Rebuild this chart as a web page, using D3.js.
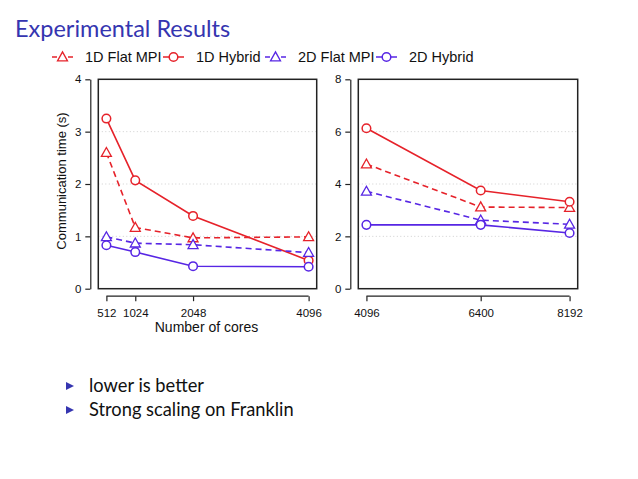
<!DOCTYPE html>
<html>
<head>
<meta charset="utf-8">
<script src="https://cdn.jsdelivr.net/npm/d3@7"></script>
<style>
  body { margin: 0; background: #fff; }
  svg { display: block; }
</style>
</head>
<body>
<svg id="viz" width="638" height="479"></svg>
<script>
// Data
const seriesNames = ["1D Flat MPI", "1D Hybrid", "2D Flat MPI", "2D Hybrid"];
const coresLeft = [512, 1024, 2048, 4096];
const coresRight = [4096, 6400, 8192];
const flat1dLeft = [2.60, 1.17, 0.97, 0.99];
const hybrid1dLeft = [3.25, 2.07, 1.39, 0.54];
const flat2dLeft = [0.99, 0.87, 0.84, 0.69];
const hybrid2dLeft = [0.83, 0.70, 0.43, 0.42];
const flat1dRight = [4.76, 3.12, 3.10];
const hybrid1dRight = [6.13, 3.75, 3.32];
const flat2dRight = [3.72, 2.62, 2.46];
const hybrid2dRight = [2.44, 2.44, 2.13];
const yTicksLeft = [0, 1, 2, 3, 4];
const yTicksRight = [0, 2, 4, 6, 8];
const bullets = ["lower is better", "Strong scaling on Franklin"];

const red = "#e6222a", blue = "#5726e4";
const styles = [
  { color: red, dash: "6,4", shape: "tri" },
  { color: red, dash: null, shape: "circle" },
  { color: blue, dash: "6,4", shape: "tri" },
  { color: blue, dash: null, shape: "circle" }
];

const svg = d3.select("#viz");
const axisFont = "'Liberation Sans', Arial, sans-serif";

// Title
svg.append("text").attr("x", 15).attr("y", 37)
  .style("font-family", "Lato, 'Open Sans', sans-serif").style("font-size", "23.5px")
  .attr("fill", "#3535b0").text("Experimental Results");

// Legend
const legendX = [52, 163, 265, 376];
seriesNames.forEach((name, i) => {
  const s = styles[i];
  const g = svg.append("g").attr("transform", `translate(${legendX[i]},57)`);
  if (s.dash) {
    g.append("line").attr("x1", 0).attr("x2", 5).attr("stroke", s.color).attr("stroke-width", 1.5);
    g.append("line").attr("x1", 16).attr("x2", 21).attr("stroke", s.color).attr("stroke-width", 1.5);
  } else {
    g.append("line").attr("x1", 0).attr("x2", 21).attr("stroke", s.color).attr("stroke-width", 1.5);
  }
  drawMarker(g, 10.5, 0, s);
  g.append("text").attr("x", 33).attr("y", 5)
    .style("font-family", axisFont).style("font-size", "14.5px").attr("fill", "#111").text(name);
});

function drawMarker(g, x, y, s) {
  if (s.shape === "circle") {
    g.append("circle").attr("cx", x).attr("cy", y).attr("r", 4.3)
      .attr("fill", "#fff").attr("stroke", s.color).attr("stroke-width", 1.5);
  } else {
    const h = 8.5;
    g.append("path")
      .attr("d", `M${x},${y - h * 0.6}L${x + 5},${y + h * 0.45}L${x - 5},${y + h * 0.45}Z`)
      .attr("fill", "#fff").attr("stroke", s.color).attr("stroke-width", 1.3);
  }
}

function drawPanel(opts) {
  const { cores, series, yMax, yTicks, left, right, yLabel, xLabel } = opts;
  const top = 79.3, bottom = 288.7;
  const pad = (d3.max(cores) - d3.min(cores)) * 0.04;
  const x = d3.scaleLinear().domain([d3.min(cores) - pad, d3.max(cores) + pad]).range([left, right]);
  const y = d3.scaleLinear().domain([0, yMax]).range([bottom, top]);
  const g = svg.append("g");

  // grid
  g.selectAll(".grid").data(yTicks.slice(1, -1)).enter().append("line")
    .attr("x1", left).attr("x2", right)
    .attr("y1", d => y(d)).attr("y2", d => y(d))
    .attr("stroke", "#cfcfcf").attr("stroke-dasharray", "1,2.5").attr("stroke-width", 1);

  // box
  g.append("rect").attr("x", left).attr("y", top).attr("width", right - left).attr("height", bottom - top)
    .attr("fill", "none").attr("stroke", "#222").attr("stroke-width", 1.5);

  // y axis (R style, offset)
  const yAxis = g.append("g").attr("transform", `translate(${left - 8},0)`)
    .call(d3.axisLeft(y).tickValues(yTicks).tickFormat(d3.format("d")).tickSize(5).tickPadding(4).tickSizeOuter(0));
  yAxis.select(".domain").attr("stroke", "#222").attr("stroke-width", 1.2);
  yAxis.selectAll(".tick line").attr("stroke", "#222").attr("stroke-width", 1.2);
  yAxis.selectAll("text").style("font-family", axisFont).style("font-size", "11.5px").attr("fill", "#111");

  // x axis
  const xAxis = g.append("g").attr("transform", `translate(0,${bottom + 7.5})`)
    .call(d3.axisBottom(x).tickValues(cores).tickFormat(d3.format("d")).tickSize(5).tickPadding(8).tickSizeOuter(0));
  xAxis.select(".domain").attr("d", `M${x(cores[0])},0H${x(cores[cores.length - 1])}`)
    .attr("stroke", "#222").attr("stroke-width", 1.2);
  xAxis.selectAll(".tick line").attr("stroke", "#222").attr("stroke-width", 1.2);
  xAxis.selectAll("text").style("font-family", axisFont).style("font-size", "11.5px").attr("fill", "#111");

  // series
  series.forEach((vals, i) => {
    const s = styles[i];
    const pts = cores.map((c, j) => [x(c), y(vals[j])]);
    g.append("path").datum(pts)
      .attr("d", d3.line())
      .attr("fill", "none").attr("stroke", s.color).attr("stroke-width", 1.6)
      .attr("stroke-dasharray", s.dash);
    pts.forEach(p => drawMarker(g, p[0], p[1], s));
  });

  if (yLabel) {
    svg.append("text").attr("transform", `translate(66,${(top + bottom) / 2 - 3}) rotate(-90)`)
      .attr("text-anchor", "middle").style("font-family", axisFont).style("font-size", "13px")
      .attr("fill", "#111").text(yLabel);
  }
  if (xLabel) {
    svg.append("text").attr("x", (left + right) / 2 - 1).attr("y", 332)
      .attr("text-anchor", "middle").style("font-family", axisFont).style("font-size", "14px")
      .attr("fill", "#111").text(xLabel);
  }
}

drawPanel({
  cores: coresLeft,
  series: [flat1dLeft, hybrid1dLeft, flat2dLeft, hybrid2dLeft],
  yMax: 4, yTicks: yTicksLeft, left: 98.3, right: 316.7,
  yLabel: "Communication time (s)", xLabel: "Number of cores"
});
drawPanel({
  cores: coresRight,
  series: [flat1dRight, hybrid1dRight, flat2dRight, hybrid2dRight],
  yMax: 8, yTicks: yTicksRight, left: 358.3, right: 577.7
});

// Bullets
bullets.forEach((b, i) => {
  const by = 392 + i * 24;
  svg.append("path").attr("d", `M66,${by - 10}L74,${by - 6}L66,${by - 2}Z`).attr("fill", "#3535b0");
  svg.append("text").attr("x", 89).attr("y", by)
    .style("font-family", "Lato, 'Open Sans', sans-serif").style("font-size", "18.3px")
    .attr("fill", "#111").text(b);
});
</script>
</body>
</html>
